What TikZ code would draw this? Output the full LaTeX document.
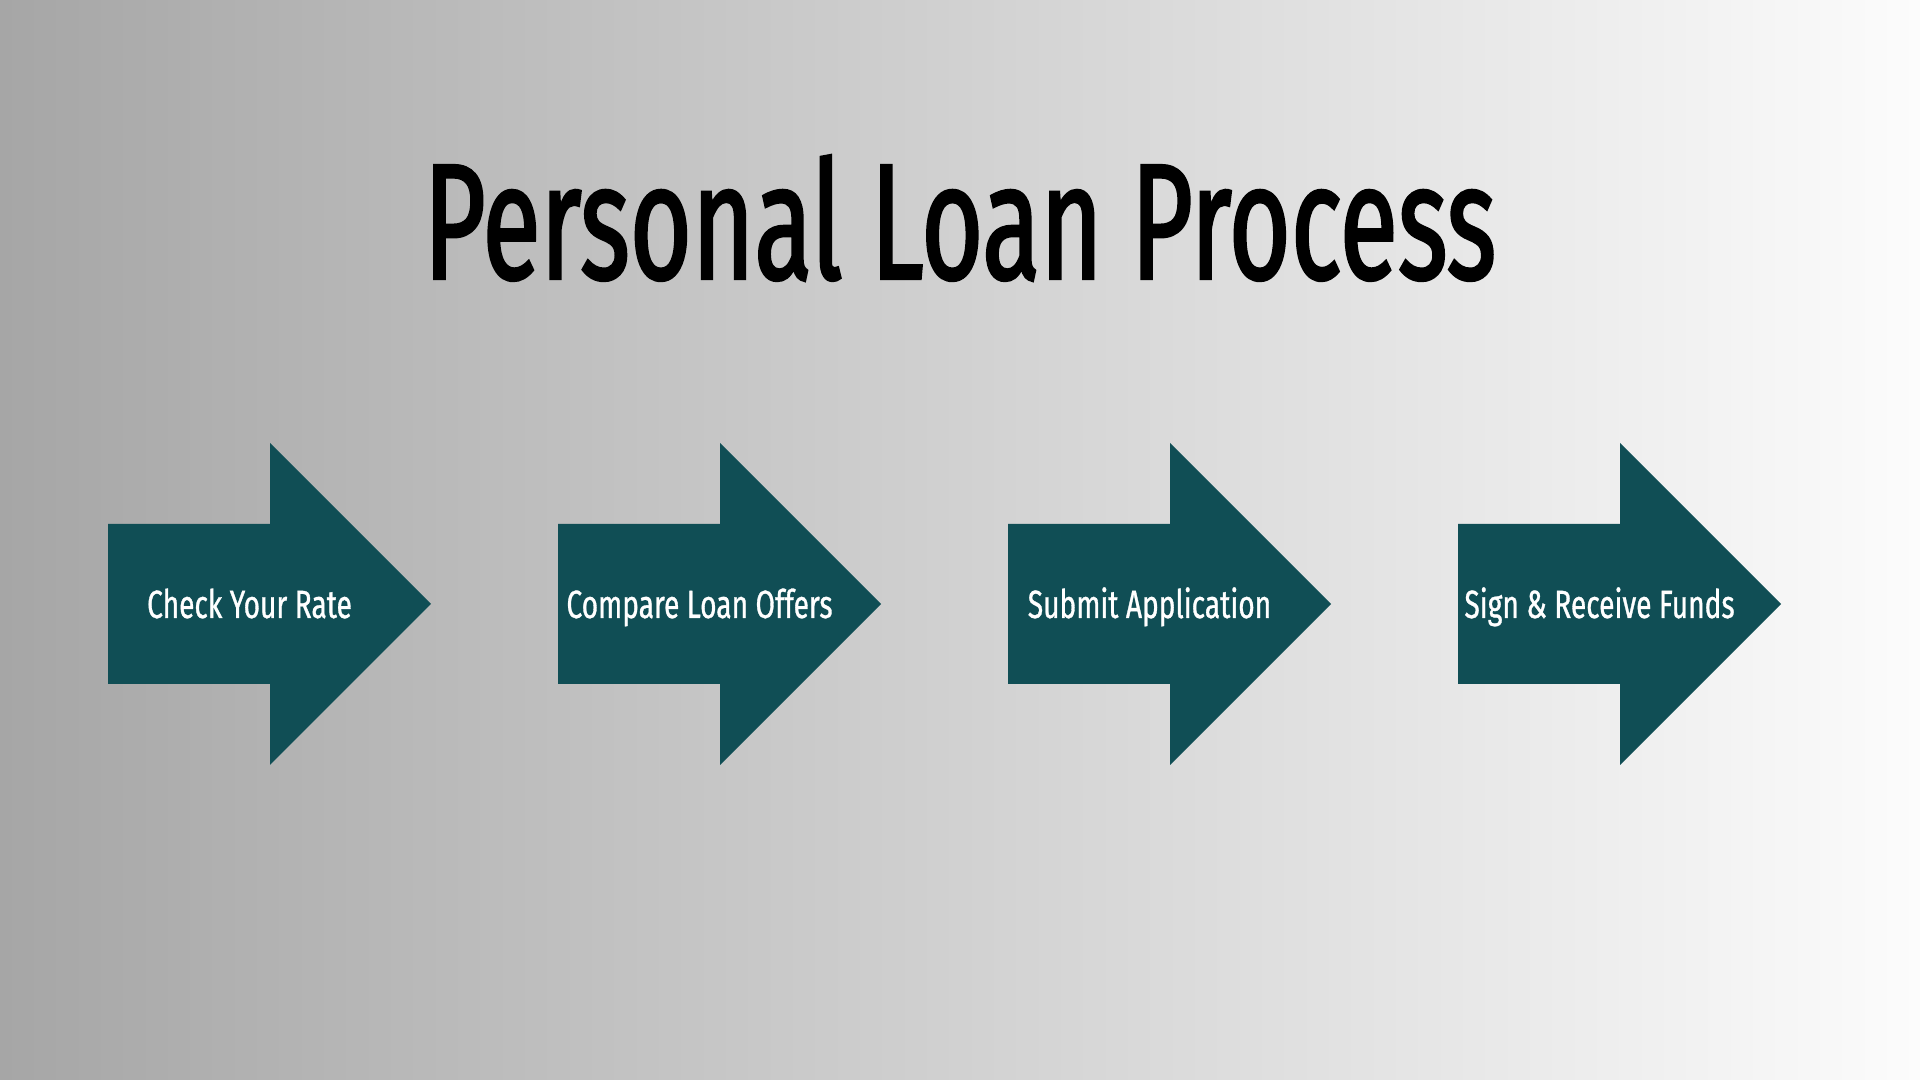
\documentclass[tikz,border=0pt]{standalone}
\usepackage{fontspec}
\usepackage{xcolor}
\usepackage{tikz}
\newfontfamily\titlefont[FakeStretch=0.645, FakeBold=1.5]{Fira Sans}
\newfontfamily\labelfont[FakeStretch=0.715, FakeBold=0.8]{Fira Sans}

\begin{document}
\begin{tikzpicture}[auto, thick]

  % Define Colors
  \definecolor{bgleft}{RGB}{166,166,166}
  \definecolor{bgright}{RGB}{252,252,252}
  \definecolor{tealdark}{RGB}{16,78,85}

  % Styles
  \tikzstyle{step_arrow}=[fill=tealdark, draw=none]
  \tikzstyle{step_text}=[white, anchor=base, inner sep=0pt, font=\labelfont\fontsize{11.2}{13}\selectfont]
  \tikzstyle{title_text}=[black, anchor=base, inner sep=0pt, font=\titlefont\fontsize{47}{56}\selectfont]

  % Background
  \useasboundingbox (0,0) rectangle (19.2,10.8);
  \shade[left color=bgleft, right color=bgright] (0,0) rectangle (19.2,10.8);

  % Title
  \node[title_text] (title) at (9.6,8.01) {Personal Loan Process};

  % Arrows
  \fill[step_arrow] (1.08,5.56) -- ++(1.62,0) -- ++(0,0.81) -- ++(1.61,-1.61) -- ++(-1.61,-1.61) -- ++(0,0.81) -- ++(-1.62,0) -- cycle;
  \fill[step_arrow] (5.58,5.56) -- ++(1.62,0) -- ++(0,0.81) -- ++(1.61,-1.61) -- ++(-1.61,-1.61) -- ++(0,0.81) -- ++(-1.62,0) -- cycle;
  \fill[step_arrow] (10.08,5.56) -- ++(1.62,0) -- ++(0,0.81) -- ++(1.61,-1.61) -- ++(-1.61,-1.61) -- ++(0,0.81) -- ++(-1.62,0) -- cycle;
  \fill[step_arrow] (14.58,5.56) -- ++(1.62,0) -- ++(0,0.81) -- ++(1.61,-1.61) -- ++(-1.61,-1.61) -- ++(0,0.81) -- ++(-1.62,0) -- cycle;

  % Step labels
  \node[step_text] (s_1) at (2.495,4.62) {Check Your Rate};
  \node[step_text] (s_2) at (6.995,4.62) {Compare Loan Offers};
  \node[step_text] (s_3) at (11.495,4.62) {Submit Application};
  \node[step_text] (s_4) at (15.995,4.62) {Sign \& Receive Funds};

\end{tikzpicture}
\end{document}
